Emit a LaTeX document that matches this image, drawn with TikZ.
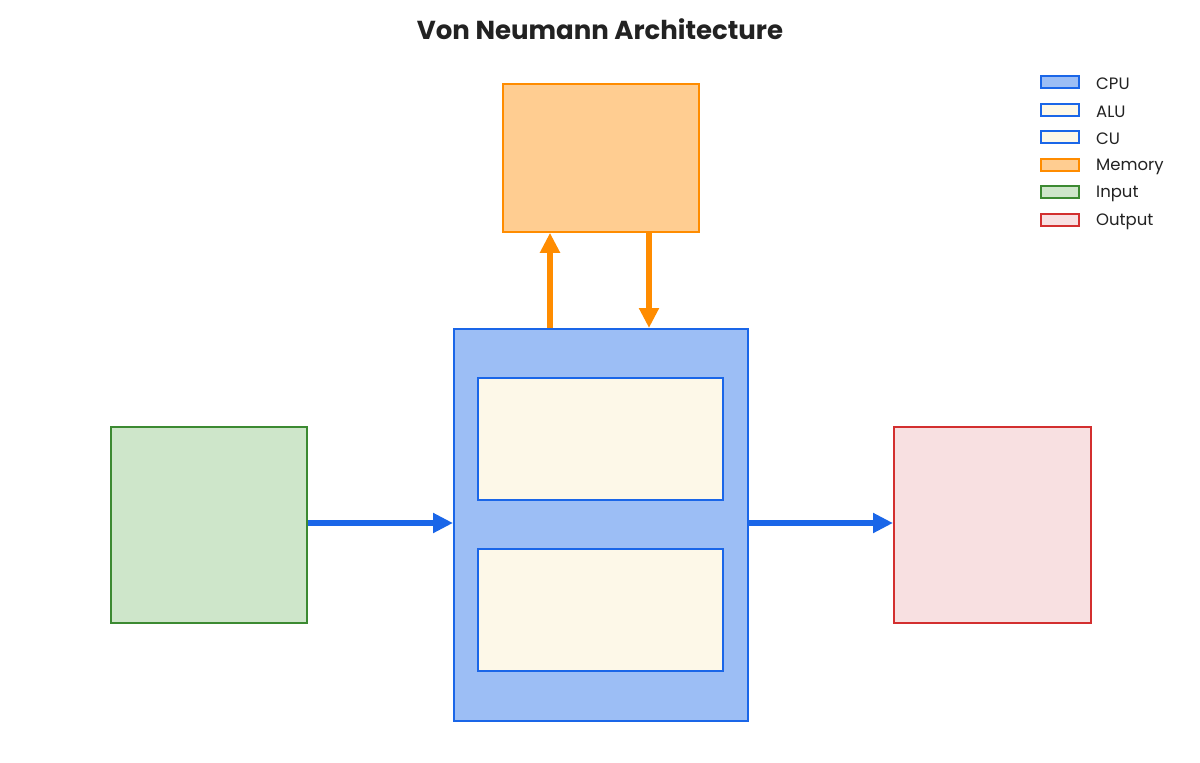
\documentclass[tikz,border=0pt]{standalone}
\usepackage{fontspec}
\setmainfont{Poppins}
\usetikzlibrary{arrows.meta}
\definecolor{cpufill}{HTML}{9CBEF5}
\definecolor{cpustroke}{HTML}{1A66E8}
\definecolor{alufill}{HTML}{FDF8E8}
\definecolor{memfill}{HTML}{FFCD91}
\definecolor{memstroke}{HTML}{FF8C00}
\definecolor{infill}{HTML}{CEE6CA}
\definecolor{instroke}{HTML}{3C8A32}
\definecolor{outfill}{HTML}{F8E0E1}
\definecolor{outstroke}{HTML}{D32F2F}
\definecolor{txt}{HTML}{222222}
\tikzset{
  box/.style={draw, line width=1.8pt},
  flowarrow/.style={line width=5.5pt, -{Triangle[length=20pt,width=19pt]}},
  swatch/.style={draw, line width=1.6pt, minimum width=38pt, minimum height=12pt, inner sep=0pt},
  legtext/.style={anchor=west, font=\fontsize{16.5}{19}\selectfont, text=txt, inner sep=0pt}
}
\begin{document}
\begin{tikzpicture}[x=1pt,y=-1pt]
\useasboundingbox (0,0) rectangle (1200,763);
\fill[white] (0,0) rectangle (1200,763);
\node[font=\fontsize{26}{30}\selectfont\bfseries, text=txt] (title) at (600,29) {Von Neumann Architecture};
% boxes
\node[box, draw=memstroke, fill=memfill, minimum width=196pt, minimum height=148pt, inner sep=0pt, anchor=north west] (mem) at (502,83) {};
\node[box, draw=cpustroke, fill=cpufill, minimum width=294pt, minimum height=392pt, inner sep=0pt, anchor=north west] (cpu) at (453,328) {};
\node[box, draw=cpustroke, fill=alufill, minimum width=245pt, minimum height=122pt, inner sep=0pt, anchor=north west] (alu) at (477,377) {};
\node[box, draw=cpustroke, fill=alufill, minimum width=245pt, minimum height=122pt, inner sep=0pt, anchor=north west] (cu) at (477,548) {};
\node[box, draw=instroke, fill=infill, minimum width=196pt, minimum height=196pt, inner sep=0pt, anchor=north west] (in) at (110,426) {};
\node[box, draw=outstroke, fill=outfill, minimum width=197pt, minimum height=196pt, inner sep=0pt, anchor=north west] (out) at (893,426) {};
% arrows
\draw[flowarrow, cpustroke] (in.east |- 0,523) -- (cpu.west |- 0,523);
\draw[flowarrow, cpustroke] (cpu.east |- 0,523) -- (out.west |- 0,523);
\draw[flowarrow, memstroke] (cpu.north -| 550,0) -- (mem.south -| 550,0);
\draw[flowarrow, memstroke] (mem.south -| 649,0) -- (cpu.north -| 649,0);
% legend
\node[swatch, draw=cpustroke, fill=cpufill] (s1) at (1060,82) {};
\node[legtext] (l1) at (1096,84) {CPU};
\node[swatch, draw=cpustroke, fill=alufill] (s2) at (1060,110) {};
\node[legtext] (l2) at (1096,112) {ALU};
\node[swatch, draw=cpustroke, fill=alufill] (s3) at (1060,137) {};
\node[legtext] (l3) at (1096,139) {CU};
\node[swatch, draw=memstroke, fill=memfill] (s4) at (1060,165) {};
\node[legtext] (l4) at (1096,167) {Memory};
\node[swatch, draw=instroke, fill=infill] (s5) at (1060,192) {};
\node[legtext] (l5) at (1096,194) {Input};
\node[swatch, draw=outstroke, fill=outfill] (s6) at (1060,220) {};
\node[legtext] (l6) at (1096,222) {Output};
\end{tikzpicture}
\end{document}
